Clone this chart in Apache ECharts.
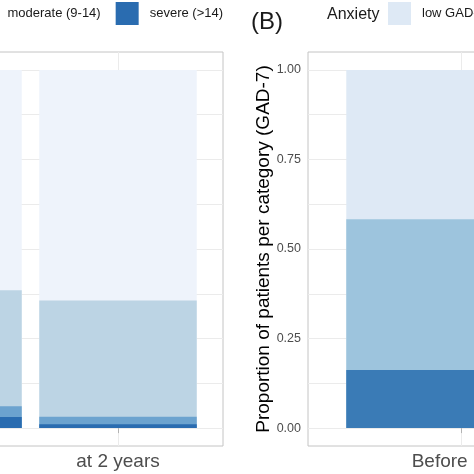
<!DOCTYPE html>
<html>
<head>
<meta charset="utf-8">
<script src="https://cdn.jsdelivr.net/npm/echarts@6/dist/echarts.min.js"></script>
<style>
  html, body { margin: 0; padding: 0; background: #fff; }
  #chart { width: 474px; height: 474px; }
</style>
</head>
<body>
<div id="chart"></div>
<script>
// Panel A (depression, PHQ-9): categories and share of each level
var leftCategories = ['at 1 year', 'at 2 years'];
var leftLevels = ['low (0-4)', 'mild (5-8)', 'moderate (9-14)', 'severe (>14)'];
var leftLow = [0.615, 0.644];
var leftMild = [0.324, 0.324];
var leftModerate = [0.030, 0.021];
var leftSevere = [0.031, 0.011];

// Panel B (anxiety, GAD-7)
var rightCategories = ['Before ECT', 'at 2 years'];
var rightLevels = ['low GAD-7 (0-4)', 'mild GAD-7 (5-9)', 'high GAD-7 (>9)'];
var rightLow = [0.417];
var rightMild = [0.421];
var rightHigh = [0.162];

// y axis ticks
var yTicks = [0, 0.25, 0.5, 0.75, 1];
var yGrid = [0, 0.125, 0.25, 0.375, 0.5, 0.625, 0.75, 0.875, 1];

var leftColors = ['#eef3fb', '#bcd4e4', '#6ca3cf', '#2a6cb0'];
var rightColors = ['#dee9f5', '#9dc4dd', '#3a7bb6'];

// bars are drawn on top of each other: each level shows the sum of itself and the levels below
const buildSeries = (names, values, colors, axisIdx, width) => {
    var out = [];
    for (var k = 0; k < names.length; k++) {
        var data = [];
        for (var j = 0; j < values[0].length; j++) {
            var sum = 0;
            for (var m = k; m < values.length; m++) sum += values[m][j];
            data.push([j + 1, sum]);
        }
        out.push({
            name: names[k],
            type: 'bar',
            xAxisIndex: axisIdx,
            yAxisIndex: axisIdx,
            barWidth: width,
            barGap: '-100%',
            itemStyle: { color: colors[k] },
            emphasis: { disabled: true },
            data: data
        });
    }
    return out;
};

const xAxisFor = (cats, gridIdx, min, max) => ({
    type: 'value',
    gridIndex: gridIdx,
    min: min,
    max: max,
    axisLine: { show: false },
    axisTick: { show: true, customValues: cats.map((c, i) => i + 1), length: 5, lineStyle: { color: '#b3b3b3' } },
    axisLabel: {
        customValues: cats.map((c, i) => i + 1),
        formatter: (v) => cats[Math.round(v) - 1],
        fontSize: 19, color: '#4d4d4d', margin: 6
    },
    splitLine: { show: true, lineStyle: { color: '#ebebeb', width: 1 } }
});

const yAxisFor = (gridIdx, showLabels) => ({
    type: 'value',
    gridIndex: gridIdx,
    min: -0.05,
    max: 1.05,
    axisLine: { show: false },
    axisTick: { show: false, customValues: yGrid },
    axisLabel: {
        show: showLabels,
        customValues: yTicks,
        formatter: (v) => v.toFixed(2),
        fontSize: 12.5, color: '#4d4d4d', margin: 7
    },
    splitLine: { show: true, lineStyle: { color: '#ebebeb', width: 1 } }
});

var chart = echarts.init(document.getElementById('chart'));

var yRight = yAxisFor(1, true);
yRight.name = 'Proportion of patients per category (GAD-7)';
yRight.nameLocation = 'middle';
yRight.nameGap = 35;
yRight.nameMoveOverlap = false;
yRight.nameTextStyle = { fontSize: 19, color: '#000' };

var legendBase = {
    orient: 'horizontal',
    top: 2,
    width: 1000,
    padding: 0,
    itemWidth: 23,
    itemHeight: 23,
    itemGap: 15,
    icon: 'rect',
    selectedMode: false,
    textStyle: { fontSize: 13, color: '#1a1a1a', padding: [0, 0, 0, 6] }
};

chart.setOption({
    animation: false,
    textStyle: { fontFamily: 'Liberation Sans, Arial, sans-serif' },
    title: [
        { text: '(B)', left: 251, top: 10, padding: 0,
          textStyle: { fontSize: 24, fontWeight: 'normal', color: '#1a1a1a' } },
        { text: 'Anxiety', left: 327, top: 7, padding: 0,
          textStyle: { fontSize: 16, fontWeight: 'normal', color: '#1a1a1a' } }
    ],
    legend: [
        Object.assign({}, legendBase, { left: -230, data: leftLevels }),
        Object.assign({}, legendBase, { left: 388, data: rightLevels })
    ],
    grid: [
        { left: -337, top: 52, width: 560, height: 394, show: true, backgroundColor: '#fff',
          borderColor: '#c4c4c4', borderWidth: 1, outerBoundsMode: 'none' },
        { left: 308, top: 52, width: 562, height: 394, show: true, backgroundColor: '#fff',
          borderColor: '#c4c4c4', borderWidth: 1, outerBoundsMode: 'none' }
    ],
    xAxis: [
        xAxisFor(leftCategories, 0, -0.6, 2.6),
        xAxisFor(rightCategories, 1, 0.4, 2.6)
    ],
    yAxis: [yAxisFor(0, false), yRight],
    series: buildSeries(leftLevels, [leftLow, leftMild, leftModerate, leftSevere], leftColors, 0, '90%')
        .concat(buildSeries(rightLevels, [rightLow, rightMild, rightHigh], rightColors, 1, 230))
});
</script>
</body>
</html>
